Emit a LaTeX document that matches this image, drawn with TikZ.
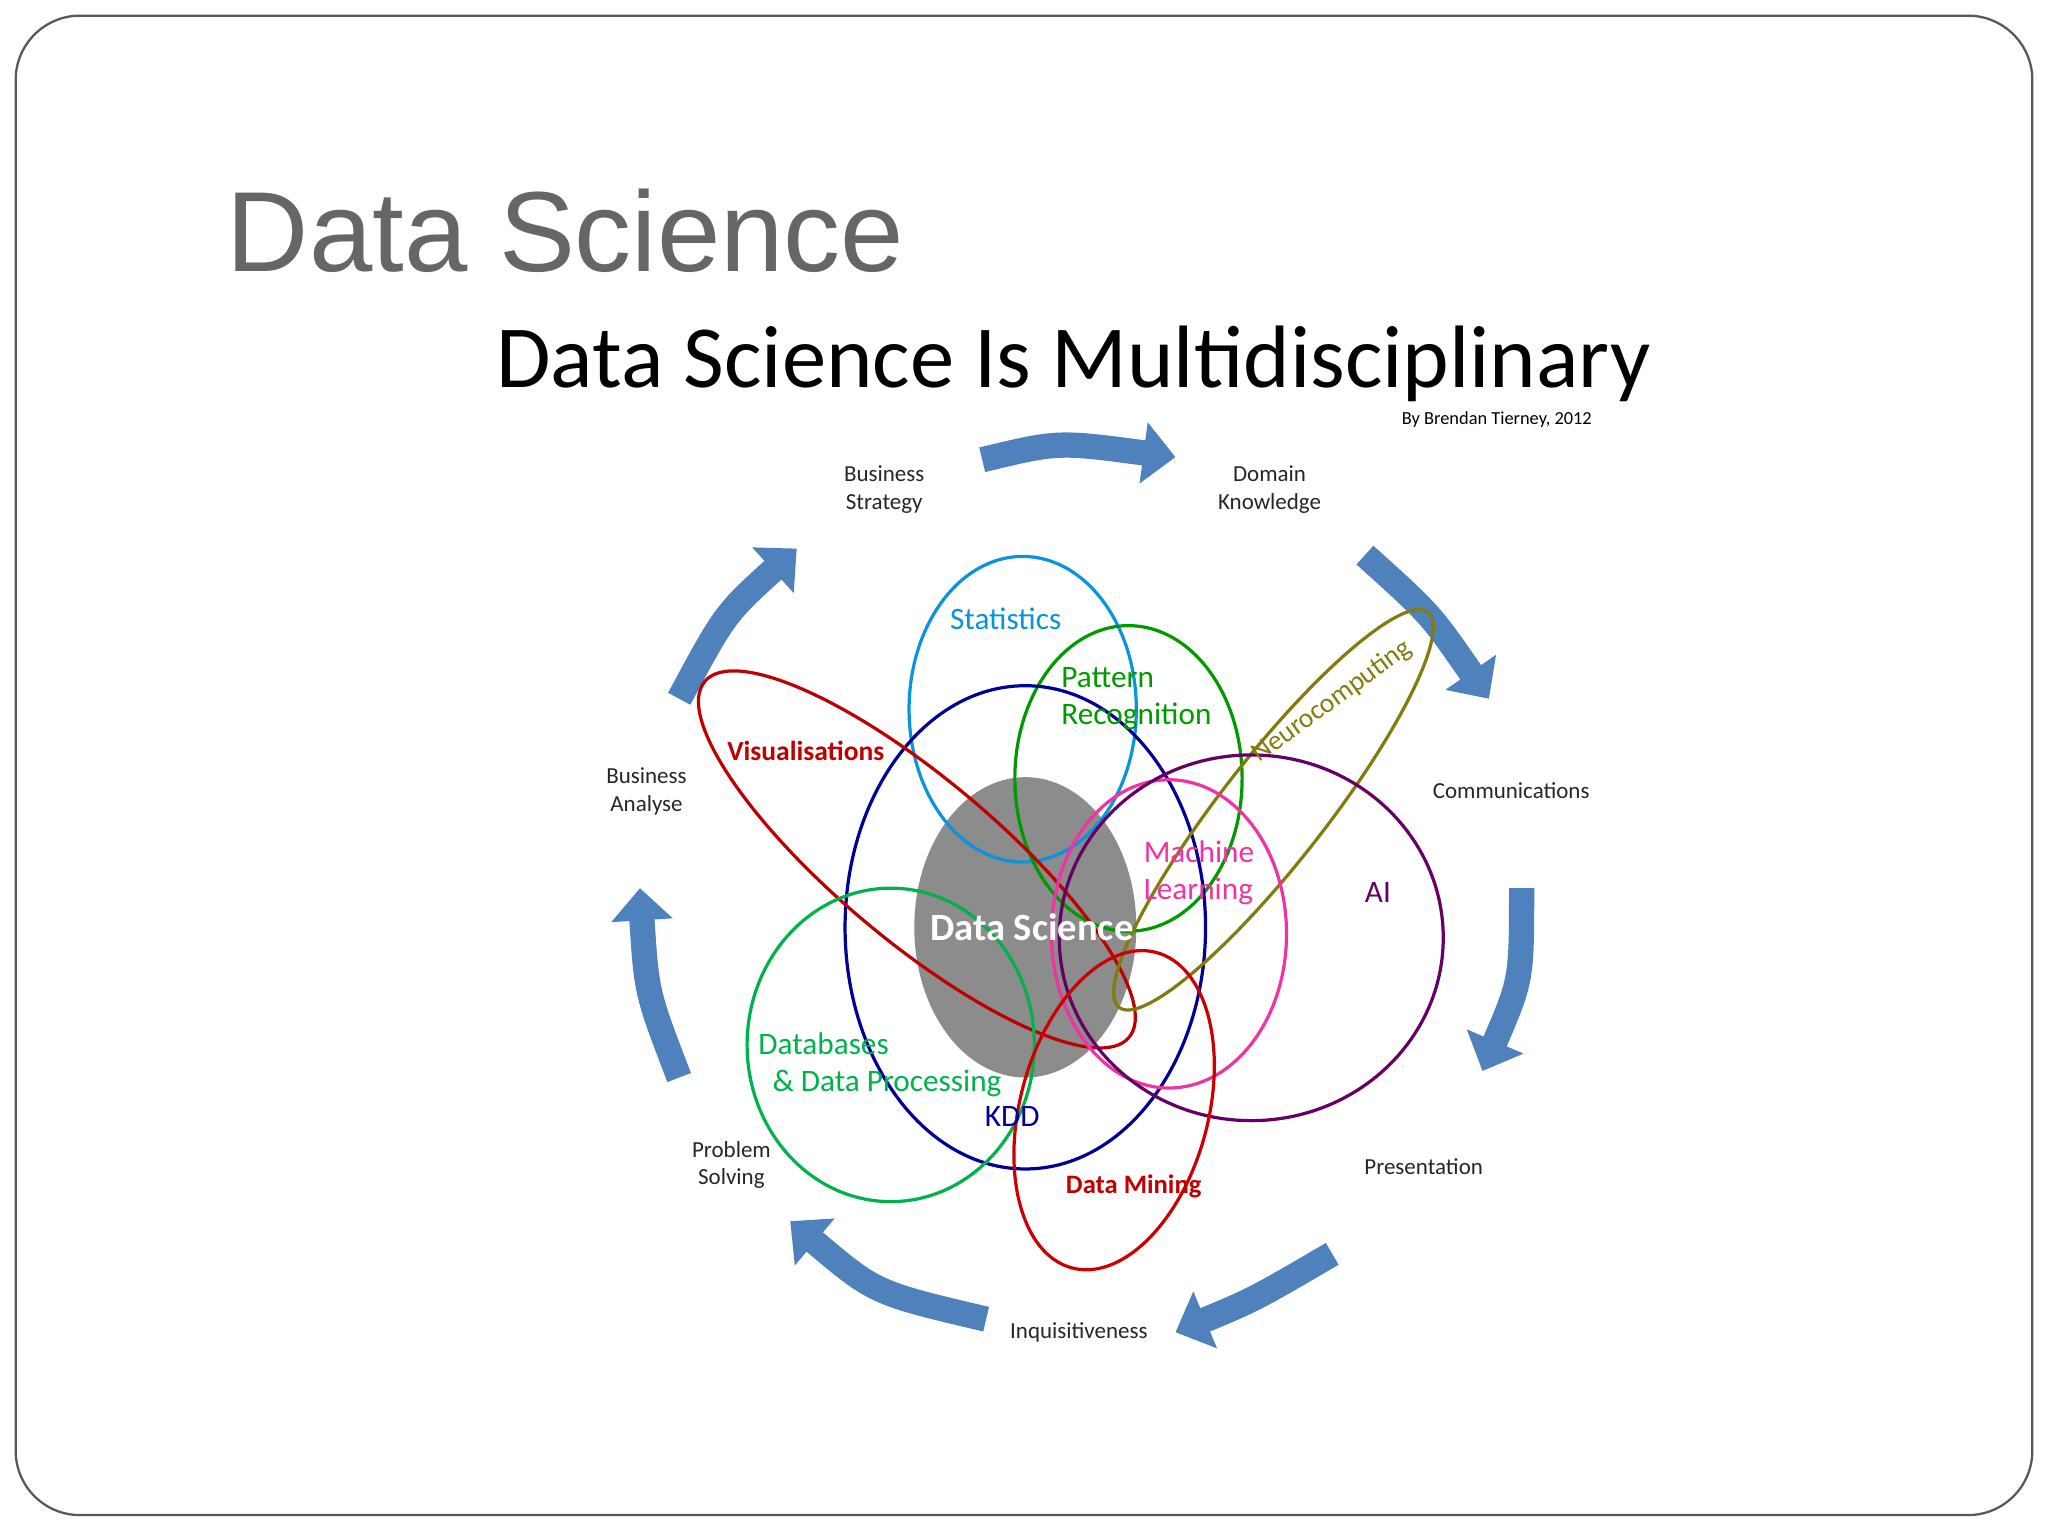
\documentclass[tikz,border=0pt]{standalone}
\usepackage{fontspec}
\setmainfont{Carlito}
\newfontfamily\titlefont{Liberation Sans}
\usetikzlibrary{arrows.meta}
\definecolor{arr}{HTML}{4F81BD}
\definecolor{ttl}{HTML}{666666}
\definecolor{core}{HTML}{8C8C8C}
\begin{document}
\begin{tikzpicture}[x=0.01cm,y=-0.01cm,
  blab/.style={font=\fontsize{5}{6}\selectfont,align=center,text=black!85},
  arrw/.style={draw=arr,line width=5.5pt,-{Triangle[width=13pt,length=7pt]}},
  ring/.style={line width=0.7pt},
  ilab/.style={font=\fontsize{6.8}{8}\selectfont,inner sep=0pt}]
\useasboundingbox (0,0) rectangle (1568,1176);
\draw[gray!70!black,line width=0.5pt,rounded corners=14pt] (12,12) rectangle (1556,1160);
\node[anchor=base west,font=\titlefont\fontsize{24.8}{27}\selectfont,text=ttl,inner sep=0] (t) at (173,208) {Data Science};
\node[anchor=base,font=\fontsize{19.3}{22}\selectfont,inner sep=0] (st) at (822,297) {Data Science Is Multidisciplinary};
\node[font=\fontsize{4}{5}\selectfont] (by) at (1146,321) {By Brendan Tierney, 2012};
% labels
\node[blab] (bs) at (677,375) {Business\\Strategy};
\node[blab] (dk) at (972,375) {Domain\\Knowledge};
\node[blab] (cm) at (1157,605) {Communications};
\node[blab] (pr) at (1090,893) {Presentation};
\node[blab] (iq) at (826,1020) {Inquisitiveness};
\node[blab] (ps) at (560,892) {Problem\\Solving};
\node[blab] (ba) at (495,606) {Business\\Analyse};
% arrows
\draw[arrw] (752,352) .. controls (810,338) .. (900,350);
\draw[arrw] (1045,425) .. controls (1095,470) .. (1140,535);
\draw[arrw] (1165,680) .. controls (1165,750) .. (1135,820);
\draw[arrw] (1020,960) .. controls (960,995) .. (900,1020);
\draw[arrw] (755,1010) .. controls (670,990) .. (605,935);
\draw[arrw] (520,825) .. controls (495,760) .. (490,680);
\draw[arrw] (520,535) .. controls (555,470) .. (610,420);
% core
\fill[core] (785,710) ellipse [x radius=85, y radius=115];
\draw[ring,draw=cyan!80!blue] (783,543) ellipse [x radius=87, y radius=117];
\draw[ring,draw=green!60!black] (864,596) ellipse [x radius=87, y radius=117];
\draw[ring,draw=blue!60!black] (785,710) ellipse [x radius=138, y radius=185];
\draw[ring,draw=red!75!black,rotate around={-40:(702,658)}] (702,658) ellipse [x radius=212, y radius=62];
\draw[ring,draw=olive!90!black,rotate around={52:(975,620)}] (975,620) ellipse [x radius=192, y radius=40];
\draw[ring,draw=magenta!80] (895,715) ellipse [x radius=90, y radius=118];
\draw[ring,draw=violet!80!black] (958,718) ellipse [x radius=147, y radius=140];
\draw[ring,draw=teal!60!green] (682,800) ellipse [x radius=110, y radius=120];
\draw[ring,draw=red!80!black,rotate around={-15:(853,850)}] (853,850) ellipse [x radius=72, y radius=125];
% inner labels
\node[ilab,text=cyan!80!blue] (ls) at (770,474) {Statistics};
\node[ilab,text=green!60!black,align=left,anchor=west] (lp) at (812,535) {Pattern\\Recognition};
\node[ilab,text=red!75!black,font=\bfseries\fontsize{6}{8}\selectfont] (lv) at (617,575) {Visualisations};
\node[ilab,text=olive!90!black,rotate=36,font=\fontsize{6}{7}\selectfont] (ln) at (1020,537) {Neurocomputing};
\node[ilab,text=magenta!80,align=left,anchor=west] (lm) at (875,668) {Machine\\Learning};
\node[ilab,text=violet!80!black] (la) at (1055,683) {AI};
\node[ilab,text=white,font=\bfseries\fontsize{8.4}{9}\selectfont] (ld) at (790,710) {Data Science};
\node[ilab,text=teal!60!green,align=left,anchor=west] (lb) at (580,815) {Databases\\\ \ \& Data Processing};
\node[ilab,text=blue!60!black] (lk) at (775,855) {KDD};
\node[ilab,text=red!75!black,font=\bfseries\fontsize{5.8}{8}\selectfont] (lmi) at (868,908) {Data Mining};
\end{tikzpicture}
\end{document}
